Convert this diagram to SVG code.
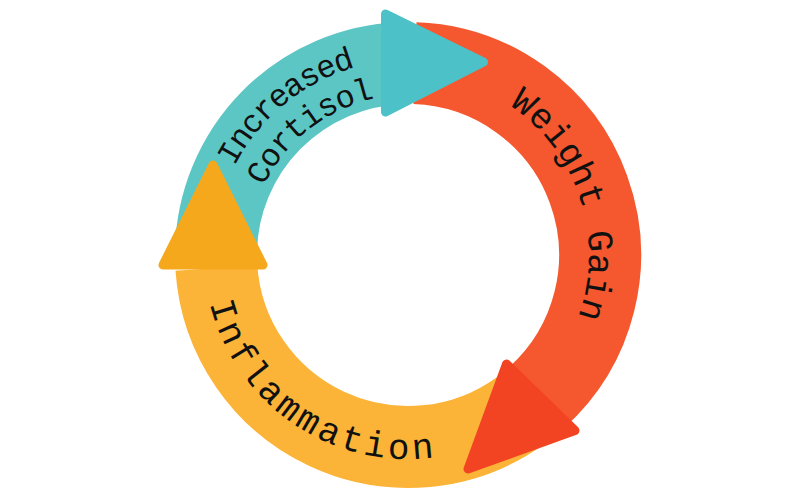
<svg xmlns="http://www.w3.org/2000/svg" width="810" height="500" viewBox="0 0 810 500">
  <style>
    .ring { fill: none; stroke-width: 82; }
    .head { stroke-width: 9; stroke-linejoin: round; }
    text { font-family: "Liberation Mono", "DejaVu Sans Mono", monospace; fill: #111; }
    .t36 { font-size: 36px; text-anchor: middle; }
    .t32 { font-size: 32px; text-anchor: middle; }
  </style>
  <defs>
    <path id="pWeight" d="M469.9 84.9A181 181 0 0 1 561.5 350.9"/>
    <path id="pInflam" d="M204 255A204 204 0 0 0 510 431.7"/>
    <path id="pIncr" d="M216.3 219.5A195 195 0 0 1 409.7 60"/>
    <path id="pCort" d="M249.4 234.1A160 160 0 0 1 428.9 96.4"/>
  </defs>
  <rect width="810" height="500" fill="#ffffff"/>
  <g id="connectors">
    <path id="arc-inflammation" class="ring" stroke="#FBB437" d="M216.4 268A192 192 0 0 0 520.9 410.3"/>
    <path id="arc-weight-gain" class="ring" stroke="#F5582E" d="M415 63.1A192 192 0 0 1 536.5 397.7"/>
    <path id="arc-cortisol" class="ring" stroke="#5CC6C4" d="M216 250A192 192 0 0 1 400 63.2"/>
    <polygon id="head-red" class="head" fill="#F24423" stroke="#F24423" points="506.5,364 575,430.5 468,469"/>
    <polygon id="head-teal" class="head" fill="#4DC1C8" stroke="#4DC1C8" points="385.5,14 483.5,62 385.5,112"/>
    <polygon id="head-yellow" class="head" fill="#F5A81C" stroke="#F5A81C" points="213,165 163,265 263,265"/>
  </g>
  <g id="node-increased-cortisol">
    <text class="t32" letter-spacing="-1.5"><textPath href="#pIncr" startOffset="50%">Increased</textPath></text>
    <text class="t32" letter-spacing="-1"><textPath href="#pCort" startOffset="49%">Cortisol</textPath></text>
  </g>
  <g id="node-weight-gain">
    <text class="t36" letter-spacing="0.3"><textPath href="#pWeight" startOffset="51%">Weight Gain</textPath></text>
  </g>
  <g id="node-inflammation">
    <text class="t36" letter-spacing="3.5"><textPath href="#pInflam" startOffset="46.7%">Inflammation</textPath></text>
  </g>
</svg>
